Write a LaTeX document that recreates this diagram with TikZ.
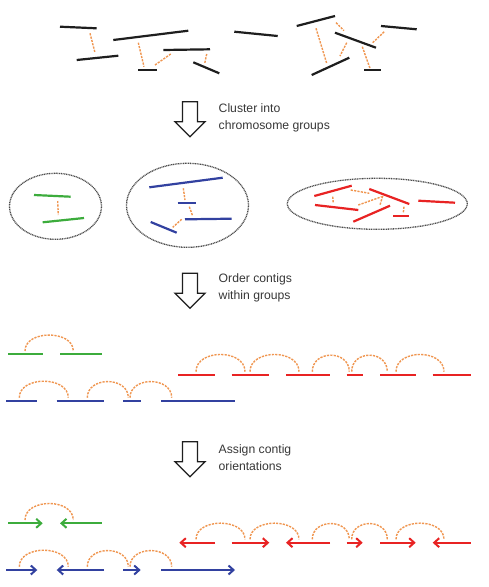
\documentclass[tikz,border=0pt]{standalone}
\usepackage{fontspec}
\setmainfont{Liberation Sans}
\usetikzlibrary{arrows.meta,shapes.geometric}
\definecolor{cgreen}{RGB}{60,172,60}
\definecolor{cblue}{RGB}{50,65,160}
\definecolor{cred}{RGB}{232,35,35}
\definecolor{corange}{RGB}{240,150,80}
\definecolor{cdark}{RGB}{30,30,30}
\begin{document}
\begin{tikzpicture}[x=1pt,y=-1pt,
  contig/.style={line width=2.2pt},
  link/.style={draw=corange,line width=1.4pt,dash pattern=on 2.2pt off 1.2pt},
  grp/.style={draw=black!70,ellipse,line width=1.3pt,dash pattern=on 1pt off 0.7pt,inner sep=0pt},
  lbl/.style={anchor=west,align=left,text=black!78,font=\fontsize{12.2}{16.5}\selectfont,inner sep=0pt},
  fw/.style={-{Straight Barb[length=5pt,width=9pt,line width=2pt]}},
  downarr/.pic={\draw[line width=1.3pt,cdark,line join=miter]
     (-7.5,0) -- (7.5,0) -- (7.5,20) -- (15,20) -- (0,35) -- (-15,20) -- (-7.5,20) -- cycle;},
]
\useasboundingbox[fill=white] (0,0) rectangle (489,587);

% ---- top: unordered contigs
\begin{scope}[cdark]
\draw[contig] (60,26.7) -- (96.7,28.3);
\draw[contig] (76.7,60) -- (118.3,55.7);
\draw[contig] (113.3,40) -- (188.3,30.7);
\draw[contig] (163.3,50) -- (210,49.3);
\draw[contig] (138.3,70) -- (156.7,70);
\draw[contig] (193.3,62.3) -- (219.3,73.3);
\draw[contig] (234.3,31.7) -- (277.7,36);
\draw[contig] (296.7,26) -- (335,16);
\draw[contig] (335,32.7) -- (376,47.7);
\draw[contig] (381,26) -- (416.7,29.3);
\draw[contig] (311.7,75) -- (349.3,57.7);
\draw[contig] (364.3,70) -- (381,70);
\end{scope}
\draw[link] (90,33.3) -- (95,52.7);
\draw[link] (138.3,42.7) -- (144,66.7);
\draw[link] (155,65) -- (170.7,54);
\draw[link] (206.7,54) -- (204.7,63.3);
\draw[link] (316,28.3) -- (326.7,63.3);
\draw[link] (336,22.7) -- (344,30.7);
\draw[link] (346.7,42.7) -- (340,56);
\draw[link] (362.3,46.7) -- (370,68.3);
\draw[link] (372.7,42.7) -- (384.3,31.7);

% ---- step 1
\pic at (190,101.7) {downarr};
\node[lbl] (t1) at (218.5,118) {Cluster into\\chromosome groups};

% ---- groups
\node[grp, minimum width=92pt, minimum height=66pt] (g1) at (55.5,206.3) {};
\node[grp, minimum width=122pt, minimum height=84pt] (g2) at (187.5,205.3) {};
\node[grp, minimum width=180pt, minimum height=51pt] (g3) at (377.3,203.8) {};

\begin{scope}[cgreen]
\draw[contig] (34,195) -- (70.7,196.7);
\draw[contig] (42.7,222.3) -- (84,218);
\end{scope}
\draw[link] (57.7,201) -- (58.3,215);

\begin{scope}[cblue]
\draw[contig] (149.3,187.3) -- (222.7,177.7);
\draw[contig] (177.7,203.3) -- (196,203.3);
\draw[contig] (185,219.3) -- (231.7,218.7);
\draw[contig] (150.7,222) -- (176.7,232.7);
\end{scope}
\draw[link] (183.3,188.3) -- (185,200);
\draw[link] (189.3,206.7) -- (192.7,216);
\draw[link] (181.7,219.3) -- (172.7,227.3);

\begin{scope}[cred]
\draw[contig] (314.3,196) -- (351.7,185.7);
\draw[contig] (315,205) -- (358.3,210);
\draw[contig] (369.3,189) -- (409.3,204);
\draw[contig] (353.3,221.7) -- (390,205.7);
\draw[contig] (393.3,216) -- (409.3,216);
\draw[contig] (418.3,200.7) -- (455,202.7);
\end{scope}
\draw[link] (332.7,196.7) -- (333.3,203.3);
\draw[link] (350.7,190) -- (369.3,193.3);
\draw[link] (358.3,205) -- (381.7,196.7);
\draw[link] (382.7,196) -- (380,205);
\draw[link] (404,206.7) -- (403.3,212.7);

% ---- step 2
\pic at (190,273.3) {downarr};
\node[lbl] (t2) at (218.5,288) {Order contigs\\within groups};

% ---- ordered
\begin{scope}[cgreen]
\draw[contig] (8.3,354.3) -- (42.7,354.3);
\draw[contig] (60,354.3) -- (101.7,354.3);
\end{scope}
\draw[link] (25,351) .. controls +(0,-21.3) and +(0,-21.3) .. (73.3,351);

\begin{scope}[cred]
\draw[contig] (178.3,375) -- (215,375);
\draw[contig] (231.7,375) -- (269.3,375);
\draw[contig] (286,375) -- (330,375);
\draw[contig] (346.7,375) -- (362.7,375);
\draw[contig] (380,375) -- (415.7,375);
\draw[contig] (432.7,375) -- (470.7,375);
\end{scope}
\draw[link] (196,371.7) .. controls +(0,-23) and +(0,-23) .. (245,371.7);
\draw[link] (250,371.7) .. controls +(0,-23) and +(0,-23) .. (299,371.7);
\draw[link] (312.3,371.7) .. controls +(0,-22) and +(0,-22) .. (349.3,371.7);
\draw[link] (351.7,371.7) .. controls +(0,-22) and +(0,-22) .. (387.3,371.7);
\draw[link] (396,371.7) .. controls +(0,-23) and +(0,-23) .. (444,371.7);

\begin{scope}[cblue]
\draw[contig] (6,401) -- (37.3,401);
\draw[contig] (56.7,401) -- (104,401);
\draw[contig] (123.3,401) -- (140.7,401);
\draw[contig] (161,401) -- (235,401);
\end{scope}
\draw[link] (19.3,397.7) .. controls +(0,-22) and +(0,-22) .. (68.3,397.7);
\draw[link] (87.3,397.7) .. controls +(0,-21.5) and +(0,-21.5) .. (128.3,397.7);
\draw[link] (130,397.7) .. controls +(0,-21.5) and +(0,-21.5) .. (171.7,397.7);

% ---- step 3
\pic at (190,441.7) {downarr};
\node[lbl] (t3) at (218.5,457.7) {Assign contig\\orientations};

% ---- oriented
\begin{scope}[cgreen]
\draw[contig,fw] (8.3,523.3) -- (42.7,523.3);
\draw[contig,fw] (101.7,523.3) -- (60,523.3);
\end{scope}
\draw[link] (25,520) .. controls +(0,-22) and +(0,-22) .. (73.3,520);

\begin{scope}[cred]
\draw[contig,fw] (215,542.7) -- (179.3,542.7);
\draw[contig,fw] (231.7,542.7) -- (269.3,542.7);
\draw[contig,fw] (330,542.7) -- (286,542.7);
\draw[contig,fw] (346.7,542.7) -- (362.7,542.7);
\draw[contig,fw] (380,542.7) -- (415.7,542.7);
\draw[contig,fw] (470.7,542.7) -- (432.7,542.7);
\end{scope}
\draw[link] (196,539.3) .. controls +(0,-21.5) and +(0,-21.5) .. (245,539.3);
\draw[link] (250,539.3) .. controls +(0,-21.5) and +(0,-21.5) .. (299,539.3);
\draw[link] (312.3,539.3) .. controls +(0,-21) and +(0,-21) .. (349.3,539.3);
\draw[link] (351.7,539.3) .. controls +(0,-21) and +(0,-21) .. (387.3,539.3);
\draw[link] (396,539.3) .. controls +(0,-21.5) and +(0,-21.5) .. (444,539.3);

\begin{scope}[cblue]
\draw[contig,fw] (6,570) -- (37.3,570);
\draw[contig,fw] (104,570) -- (56.7,570);
\draw[contig,fw] (123.3,570) -- (140.7,570);
\draw[contig,fw] (161,570) -- (235,570);
\end{scope}
\draw[link] (19.3,566.7) .. controls +(0,-22) and +(0,-22) .. (68.3,566.7);
\draw[link] (87.3,566.7) .. controls +(0,-21.5) and +(0,-21.5) .. (128.3,566.7);
\draw[link] (130,566.7) .. controls +(0,-21.5) and +(0,-21.5) .. (171.7,566.7);
\end{tikzpicture}
\end{document}
